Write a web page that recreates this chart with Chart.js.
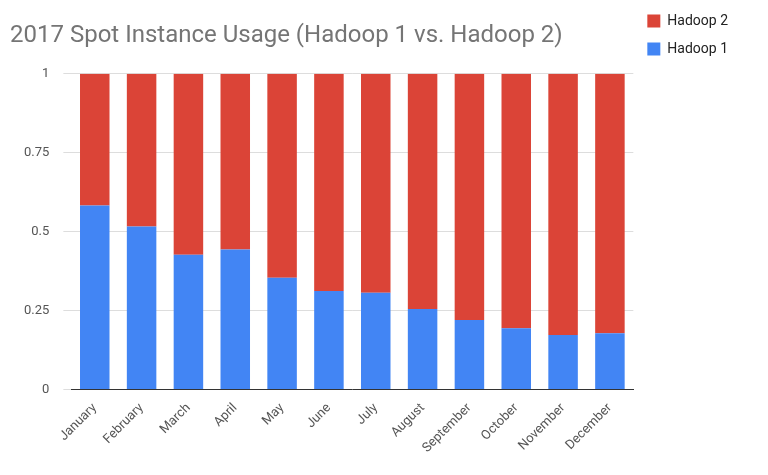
<!DOCTYPE html>
<html>
<head>
<meta charset="utf-8">
<script src="https://cdn.jsdelivr.net/npm/chart.js@4/dist/chart.umd.min.js"></script>
<style>
  html, body { margin: 0; padding: 0; background: #fff; }
  #wrap { width: 768px; height: 475px; }
</style>
</head>
<body>
<div id="wrap"><canvas id="chart" width="768" height="475"></canvas></div>
<script>
  const months = ["January", "February", "March", "April", "May", "June", "July",
    "August", "September", "October", "November", "December"];
  const hadoop1 = [0.583, 0.516, 0.427, 0.443, 0.354, 0.312, 0.306, 0.255, 0.220, 0.194, 0.172, 0.178];
  const hadoop2 = [0.417, 0.484, 0.573, 0.557, 0.646, 0.688, 0.694, 0.745, 0.780, 0.806, 0.828, 0.822];
  const yStep = 0.25;

  new Chart(document.getElementById("chart"), {
    type: "bar",
    data: {
      labels: months,
      datasets: [
        { label: "Hadoop 1", data: hadoop1, backgroundColor: "#4285f4" },
        { label: "Hadoop 2", data: hadoop2, backgroundColor: "#db4437" }
      ]
    },
    options: {
      responsive: false,
      animation: false,
      layout: { padding: { left: 10, right: 30, top: 0, bottom: 16 } },
      datasets: { bar: { categoryPercentage: 1, barPercentage: 0.63 } },
      plugins: {
        title: {
          display: true,
          text: "2017 Spot Instance Usage (Hadoop 1 vs. Hadoop 2)",
          align: "start",
          color: "#757575",
          font: { family: "Roboto", size: 24, weight: "normal" },
          padding: { top: 22, bottom: 23 }
        },
        legend: {
          position: "right",
          align: "start",
          reverse: true,
          labels: {
            boxWidth: 13, boxHeight: 13, padding: 14,
            color: "#222", font: { family: "Roboto", size: 14 }
          }
        },
        tooltip: { enabled: false }
      },
      scales: {
        x: {
          stacked: true,
          grid: { display: false },
          border: { color: "#333" },
          ticks: { color: "#555", font: { family: "Roboto", size: 13 }, maxRotation: 45, minRotation: 45 }
        },
        y: {
          stacked: true,
          min: 0, max: 1,
          grid: { color: "#ddd" },
          border: { display: false },
          ticks: {
            stepSize: yStep, color: "#555", padding: 14,
            font: { family: "Roboto", size: 13 },
            callback: (v) => String(Math.round(v * 100) / 100)
          }
        }
      }
    }
  });
</script>
</body>
</html>
